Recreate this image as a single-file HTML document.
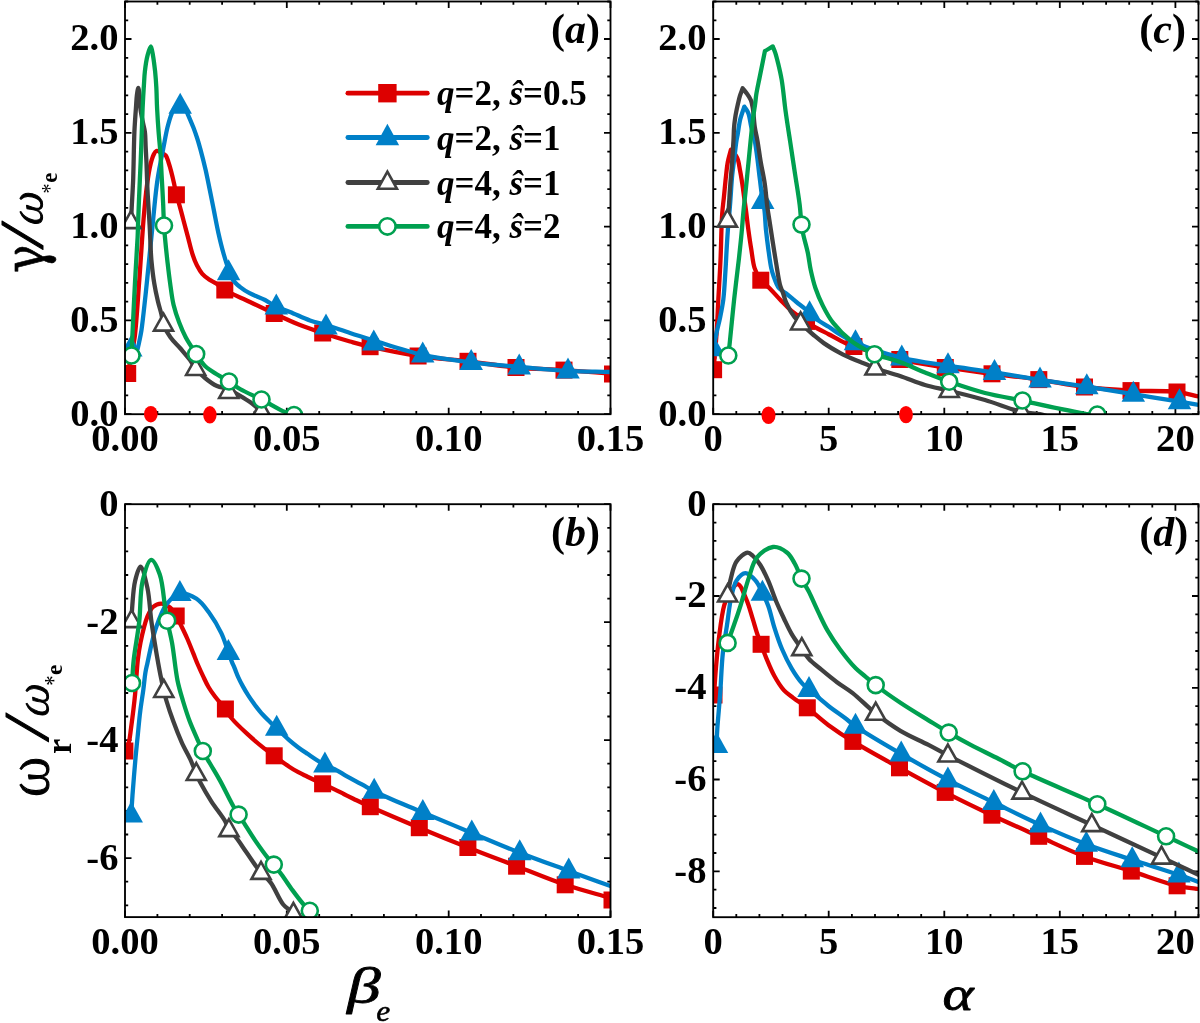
<!DOCTYPE html>
<html><head><meta charset="utf-8"><title>Growth rate and frequency</title><style>html,body{margin:0;padding:0;background:#fff;overflow:hidden;width:1200px;height:1023px;}svg{display:block;}</style></head><body>
<svg width="1200" height="1023" viewBox="0 0 1200 1023">
<rect width="100%" height="100%" fill="#fff"/>
<defs>
<clipPath id="clipa"><rect x="125.0" y="1.5" width="485.5" height="412.7"/></clipPath>
<clipPath id="clipb"><rect x="125.0" y="504.2" width="485.5" height="412.9"/></clipPath>
<clipPath id="clipc"><rect x="713.2" y="1.5" width="485.3" height="412.7"/></clipPath>
<clipPath id="clipd"><rect x="713.2" y="504.2" width="485.3" height="413.0"/></clipPath>
</defs>
<path d="M125.0,414.2 v-6.5 M125.0,1.5 v6.5 M286.8,414.2 v-6.5 M286.8,1.5 v6.5 M448.7,414.2 v-6.5 M448.7,1.5 v6.5 M610.5,414.2 v-6.5 M610.5,1.5 v6.5 M157.4,414.2 v-3.2 M157.4,1.5 v3.2 M189.7,414.2 v-3.2 M189.7,1.5 v3.2 M222.1,414.2 v-3.2 M222.1,1.5 v3.2 M254.5,414.2 v-3.2 M254.5,1.5 v3.2 M319.2,414.2 v-3.2 M319.2,1.5 v3.2 M351.6,414.2 v-3.2 M351.6,1.5 v3.2 M383.9,414.2 v-3.2 M383.9,1.5 v3.2 M416.3,414.2 v-3.2 M416.3,1.5 v3.2 M481.0,414.2 v-3.2 M481.0,1.5 v3.2 M513.4,414.2 v-3.2 M513.4,1.5 v3.2 M545.8,414.2 v-3.2 M545.8,1.5 v3.2 M578.1,414.2 v-3.2 M578.1,1.5 v3.2 M125.0,414.2 h6.5 M610.5,414.2 h-6.5 M125.0,320.4 h6.5 M610.5,320.4 h-6.5 M125.0,226.6 h6.5 M610.5,226.6 h-6.5 M125.0,132.8 h6.5 M610.5,132.8 h-6.5 M125.0,39.0 h6.5 M610.5,39.0 h-6.5 M125.0,395.4 h3.2 M610.5,395.4 h-3.2 M125.0,376.7 h3.2 M610.5,376.7 h-3.2 M125.0,357.9 h3.2 M610.5,357.9 h-3.2 M125.0,339.2 h3.2 M610.5,339.2 h-3.2 M125.0,301.6 h3.2 M610.5,301.6 h-3.2 M125.0,282.9 h3.2 M610.5,282.9 h-3.2 M125.0,264.1 h3.2 M610.5,264.1 h-3.2 M125.0,245.4 h3.2 M610.5,245.4 h-3.2 M125.0,207.8 h3.2 M610.5,207.8 h-3.2 M125.0,189.1 h3.2 M610.5,189.1 h-3.2 M125.0,170.3 h3.2 M610.5,170.3 h-3.2 M125.0,151.6 h3.2 M610.5,151.6 h-3.2 M125.0,114.1 h3.2 M610.5,114.1 h-3.2 M125.0,95.3 h3.2 M610.5,95.3 h-3.2 M125.0,76.5 h3.2 M610.5,76.5 h-3.2 M125.0,57.8 h3.2 M610.5,57.8 h-3.2 M125.0,20.3 h3.2 M610.5,20.3 h-3.2 M125.0,1.5 h3.2 M610.5,1.5 h-3.2" stroke="#000" stroke-width="1.8" fill="none"/>
<path d="M713.2,414.2 v-6.5 M713.2,1.5 v6.5 M828.7,414.2 v-6.5 M828.7,1.5 v6.5 M944.3,414.2 v-6.5 M944.3,1.5 v6.5 M1059.8,414.2 v-6.5 M1059.8,1.5 v6.5 M1175.4,414.2 v-6.5 M1175.4,1.5 v6.5 M736.3,414.2 v-3.2 M736.3,1.5 v3.2 M759.4,414.2 v-3.2 M759.4,1.5 v3.2 M782.5,414.2 v-3.2 M782.5,1.5 v3.2 M805.6,414.2 v-3.2 M805.6,1.5 v3.2 M851.9,414.2 v-3.2 M851.9,1.5 v3.2 M875.0,414.2 v-3.2 M875.0,1.5 v3.2 M898.1,414.2 v-3.2 M898.1,1.5 v3.2 M921.2,414.2 v-3.2 M921.2,1.5 v3.2 M967.4,414.2 v-3.2 M967.4,1.5 v3.2 M990.5,414.2 v-3.2 M990.5,1.5 v3.2 M1013.6,414.2 v-3.2 M1013.6,1.5 v3.2 M1036.7,414.2 v-3.2 M1036.7,1.5 v3.2 M1083.0,414.2 v-3.2 M1083.0,1.5 v3.2 M1106.1,414.2 v-3.2 M1106.1,1.5 v3.2 M1129.2,414.2 v-3.2 M1129.2,1.5 v3.2 M1152.3,414.2 v-3.2 M1152.3,1.5 v3.2 M1198.5,414.2 v-3.2 M1198.5,1.5 v3.2 M713.2,414.2 h6.5 M1198.5,414.2 h-6.5 M713.2,320.4 h6.5 M1198.5,320.4 h-6.5 M713.2,226.6 h6.5 M1198.5,226.6 h-6.5 M713.2,132.8 h6.5 M1198.5,132.8 h-6.5 M713.2,39.0 h6.5 M1198.5,39.0 h-6.5 M713.2,395.4 h3.2 M1198.5,395.4 h-3.2 M713.2,376.7 h3.2 M1198.5,376.7 h-3.2 M713.2,357.9 h3.2 M1198.5,357.9 h-3.2 M713.2,339.2 h3.2 M1198.5,339.2 h-3.2 M713.2,301.6 h3.2 M1198.5,301.6 h-3.2 M713.2,282.9 h3.2 M1198.5,282.9 h-3.2 M713.2,264.1 h3.2 M1198.5,264.1 h-3.2 M713.2,245.4 h3.2 M1198.5,245.4 h-3.2 M713.2,207.8 h3.2 M1198.5,207.8 h-3.2 M713.2,189.1 h3.2 M1198.5,189.1 h-3.2 M713.2,170.3 h3.2 M1198.5,170.3 h-3.2 M713.2,151.6 h3.2 M1198.5,151.6 h-3.2 M713.2,114.1 h3.2 M1198.5,114.1 h-3.2 M713.2,95.3 h3.2 M1198.5,95.3 h-3.2 M713.2,76.5 h3.2 M1198.5,76.5 h-3.2 M713.2,57.8 h3.2 M1198.5,57.8 h-3.2 M713.2,20.3 h3.2 M1198.5,20.3 h-3.2 M713.2,1.5 h3.2 M1198.5,1.5 h-3.2" stroke="#000" stroke-width="1.8" fill="none"/>
<path d="M125.0,917.1 v-6.5 M125.0,504.2 v6.5 M286.8,917.1 v-6.5 M286.8,504.2 v6.5 M448.7,917.1 v-6.5 M448.7,504.2 v6.5 M610.5,917.1 v-6.5 M610.5,504.2 v6.5 M157.4,917.1 v-3.2 M157.4,504.2 v3.2 M189.7,917.1 v-3.2 M189.7,504.2 v3.2 M222.1,917.1 v-3.2 M222.1,504.2 v3.2 M254.5,917.1 v-3.2 M254.5,504.2 v3.2 M319.2,917.1 v-3.2 M319.2,504.2 v3.2 M351.6,917.1 v-3.2 M351.6,504.2 v3.2 M383.9,917.1 v-3.2 M383.9,504.2 v3.2 M416.3,917.1 v-3.2 M416.3,504.2 v3.2 M481.0,917.1 v-3.2 M481.0,504.2 v3.2 M513.4,917.1 v-3.2 M513.4,504.2 v3.2 M545.8,917.1 v-3.2 M545.8,504.2 v3.2 M578.1,917.1 v-3.2 M578.1,504.2 v3.2 M125.0,504.2 h6.5 M610.5,504.2 h-6.5 M125.0,622.2 h6.5 M610.5,622.2 h-6.5 M125.0,740.1 h6.5 M610.5,740.1 h-6.5 M125.0,858.1 h6.5 M610.5,858.1 h-6.5 M125.0,527.8 h3.2 M610.5,527.8 h-3.2 M125.0,551.4 h3.2 M610.5,551.4 h-3.2 M125.0,575.0 h3.2 M610.5,575.0 h-3.2 M125.0,598.6 h3.2 M610.5,598.6 h-3.2 M125.0,645.8 h3.2 M610.5,645.8 h-3.2 M125.0,669.4 h3.2 M610.5,669.4 h-3.2 M125.0,693.0 h3.2 M610.5,693.0 h-3.2 M125.0,716.5 h3.2 M610.5,716.5 h-3.2 M125.0,763.7 h3.2 M610.5,763.7 h-3.2 M125.0,787.3 h3.2 M610.5,787.3 h-3.2 M125.0,810.9 h3.2 M610.5,810.9 h-3.2 M125.0,834.5 h3.2 M610.5,834.5 h-3.2 M125.0,881.7 h3.2 M610.5,881.7 h-3.2 M125.0,905.3 h3.2 M610.5,905.3 h-3.2" stroke="#000" stroke-width="1.8" fill="none"/>
<path d="M713.2,917.2 v-6.5 M713.2,504.2 v6.5 M828.7,917.2 v-6.5 M828.7,504.2 v6.5 M944.3,917.2 v-6.5 M944.3,504.2 v6.5 M1059.8,917.2 v-6.5 M1059.8,504.2 v6.5 M1175.4,917.2 v-6.5 M1175.4,504.2 v6.5 M736.3,917.2 v-3.2 M736.3,504.2 v3.2 M759.4,917.2 v-3.2 M759.4,504.2 v3.2 M782.5,917.2 v-3.2 M782.5,504.2 v3.2 M805.6,917.2 v-3.2 M805.6,504.2 v3.2 M851.9,917.2 v-3.2 M851.9,504.2 v3.2 M875.0,917.2 v-3.2 M875.0,504.2 v3.2 M898.1,917.2 v-3.2 M898.1,504.2 v3.2 M921.2,917.2 v-3.2 M921.2,504.2 v3.2 M967.4,917.2 v-3.2 M967.4,504.2 v3.2 M990.5,917.2 v-3.2 M990.5,504.2 v3.2 M1013.6,917.2 v-3.2 M1013.6,504.2 v3.2 M1036.7,917.2 v-3.2 M1036.7,504.2 v3.2 M1083.0,917.2 v-3.2 M1083.0,504.2 v3.2 M1106.1,917.2 v-3.2 M1106.1,504.2 v3.2 M1129.2,917.2 v-3.2 M1129.2,504.2 v3.2 M1152.3,917.2 v-3.2 M1152.3,504.2 v3.2 M1198.5,917.2 v-3.2 M1198.5,504.2 v3.2 M713.2,504.2 h6.5 M1198.5,504.2 h-6.5 M713.2,596.0 h6.5 M1198.5,596.0 h-6.5 M713.2,687.8 h6.5 M1198.5,687.8 h-6.5 M713.2,779.5 h6.5 M1198.5,779.5 h-6.5 M713.2,871.3 h6.5 M1198.5,871.3 h-6.5 M713.2,522.6 h3.2 M1198.5,522.6 h-3.2 M713.2,540.9 h3.2 M1198.5,540.9 h-3.2 M713.2,559.3 h3.2 M1198.5,559.3 h-3.2 M713.2,577.6 h3.2 M1198.5,577.6 h-3.2 M713.2,614.3 h3.2 M1198.5,614.3 h-3.2 M713.2,632.7 h3.2 M1198.5,632.7 h-3.2 M713.2,651.0 h3.2 M1198.5,651.0 h-3.2 M713.2,669.4 h3.2 M1198.5,669.4 h-3.2 M713.2,706.1 h3.2 M1198.5,706.1 h-3.2 M713.2,724.5 h3.2 M1198.5,724.5 h-3.2 M713.2,742.8 h3.2 M1198.5,742.8 h-3.2 M713.2,761.2 h3.2 M1198.5,761.2 h-3.2 M713.2,797.9 h3.2 M1198.5,797.9 h-3.2 M713.2,816.2 h3.2 M1198.5,816.2 h-3.2 M713.2,834.6 h3.2 M1198.5,834.6 h-3.2 M713.2,853.0 h3.2 M1198.5,853.0 h-3.2 M713.2,889.7 h3.2 M1198.5,889.7 h-3.2 M713.2,908.0 h3.2 M1198.5,908.0 h-3.2" stroke="#000" stroke-width="1.8" fill="none"/>
<g clip-path="url(#clipa)">
<path d="M127.7,373.5 C129.0,367.3 130.3,361.1 131.5,355.0 C132.7,349.0 133.7,344.9 134.7,337.3 C136.5,323.5 137.9,298.2 139.4,278.7 C140.9,259.1 142.1,237.0 143.5,220.0 C144.6,206.8 145.6,195.3 147.0,185.0 C148.1,176.9 149.4,168.7 150.8,163.2 C151.7,159.8 152.4,157.2 153.5,155.0 C154.3,153.4 155.1,151.4 156.3,151.0 C157.3,150.6 158.7,151.4 160.0,152.0 C161.7,152.7 164.3,153.7 165.7,155.4 C167.3,157.3 167.7,160.0 168.8,163.2 C170.5,168.3 172.7,177.4 174.0,183.2 C175.0,187.6 175.4,191.0 176.4,194.8 C177.3,198.6 178.6,202.0 179.7,206.1 C181.1,211.0 182.6,216.9 184.0,222.3 C185.4,227.7 186.9,233.0 188.3,238.4 C189.7,243.8 191.0,249.7 192.6,254.5 C193.9,258.5 195.2,262.0 196.9,265.3 C198.5,268.4 200.2,271.5 202.3,273.9 C204.2,276.1 206.4,277.6 208.7,279.2 C211.0,280.8 213.7,281.8 216.2,283.5 C219.0,285.4 221.0,287.7 224.8,290.0 C230.9,293.7 241.7,298.0 250.0,302.0 C258.1,305.9 266.0,309.7 274.2,313.5 C282.6,317.4 291.6,321.7 300.0,325.0 C307.7,328.1 314.8,330.4 322.7,333.0 C331.4,335.9 341.6,339.1 350.0,341.5 C357.2,343.5 361.9,344.9 370.1,346.7 C382.6,349.5 401.9,353.6 418.1,356.0 C434.5,358.5 451.5,359.4 468.0,361.3 C484.2,363.2 500.0,366.0 516.0,367.5 C532.0,369.0 548.1,369.1 564.0,370.1 C579.6,371.1 595.0,372.4 610.5,373.5" fill="none" stroke="#dd0000" stroke-width="4.3" stroke-linejoin="round" stroke-linecap="round"/>
<rect x="119.2" y="365.0" width="17.0" height="17.0" fill="#dd0000"/>
<rect x="167.9" y="186.3" width="17.0" height="17.0" fill="#dd0000"/>
<rect x="216.3" y="281.5" width="17.0" height="17.0" fill="#dd0000"/>
<rect x="265.7" y="305.0" width="17.0" height="17.0" fill="#dd0000"/>
<rect x="314.2" y="324.5" width="17.0" height="17.0" fill="#dd0000"/>
<rect x="361.6" y="338.2" width="17.0" height="17.0" fill="#dd0000"/>
<rect x="409.6" y="347.5" width="17.0" height="17.0" fill="#dd0000"/>
<rect x="459.5" y="352.8" width="17.0" height="17.0" fill="#dd0000"/>
<rect x="507.5" y="359.0" width="17.0" height="17.0" fill="#dd0000"/>
<rect x="555.5" y="361.6" width="17.0" height="17.0" fill="#dd0000"/>
<rect x="604.0" y="365.5" width="17.0" height="17.0" fill="#dd0000"/>
<path d="M130.8,348.9 C133.1,348.9 135.3,349.0 137.6,349.0 L137.6,349.0 C138.1,346.8 138.6,344.9 139.1,342.4 C139.8,339.0 140.6,335.6 141.4,330.6 C142.7,322.0 144.2,307.1 145.5,295.4 C146.8,283.7 147.9,271.9 149.1,260.2 C150.3,248.5 151.4,237.0 152.6,225.0 C153.9,212.4 155.2,196.9 156.6,186.4 C157.5,179.1 158.4,174.2 159.5,168.0 C160.6,161.7 161.9,155.4 163.2,148.8 C164.6,141.8 165.9,133.7 167.5,127.3 C168.8,122.1 170.2,117.1 171.8,113.3 C173.0,110.6 173.9,108.1 175.5,106.5 C176.8,105.2 178.5,104.0 180.0,104.0 C181.4,104.0 182.9,104.8 184.0,106.0 C185.5,107.6 186.1,110.5 187.4,113.3 C189.1,117.2 191.6,122.9 193.3,127.3 C194.8,131.1 195.9,134.4 197.1,138.0 C198.3,141.6 199.1,144.6 200.3,148.8 C201.9,154.7 204.1,163.3 205.7,170.3 C207.2,177.0 208.4,183.3 209.8,190.0 C211.2,197.0 212.7,204.3 214.1,211.5 C215.5,218.7 216.8,225.9 218.4,233.0 C220.0,240.2 221.9,248.0 223.8,254.5 C225.4,260.0 226.9,265.0 228.6,269.5 C230.0,273.3 231.0,277.0 233.0,280.0 C234.8,282.7 237.3,284.7 239.9,286.8 C242.8,289.1 245.9,291.2 249.6,293.2 C254.1,295.6 260.3,297.6 265.0,300.0 C269.1,302.2 272.3,304.9 276.3,306.9 C280.6,309.0 285.0,310.0 290.0,312.0 C296.1,314.4 303.6,318.3 310.0,320.5 C315.6,322.5 320.2,323.2 326.0,325.0 C333.2,327.2 342.0,330.4 350.0,333.0 C357.9,335.6 364.4,337.6 373.8,340.5 C387.2,344.6 406.3,351.2 422.7,354.9 C438.8,358.5 455.0,360.4 471.2,362.4 C487.2,364.4 503.1,365.5 519.2,366.9 C535.4,368.3 552.3,370.1 568.0,370.9 C582.6,371.7 596.3,371.6 610.5,372.0" fill="none" stroke="#0080c8" stroke-width="4.3" stroke-linejoin="round" stroke-linecap="round"/>
<polygon points="130.80,335.46 142.55,356.46 119.05,356.46" fill="#0080c8"/>
<polygon points="180.20,92.86 191.95,113.86 168.45,113.86" fill="#0080c8"/>
<polygon points="228.60,259.36 240.35,280.36 216.85,280.36" fill="#0080c8"/>
<polygon points="276.30,293.46 288.05,314.46 264.55,314.46" fill="#0080c8"/>
<polygon points="326.00,313.46 337.75,334.46 314.25,334.46" fill="#0080c8"/>
<polygon points="373.80,329.46 385.55,350.46 362.05,350.46" fill="#0080c8"/>
<polygon points="422.70,341.46 434.45,362.46 410.95,362.46" fill="#0080c8"/>
<polygon points="471.20,348.96 482.95,369.96 459.45,369.96" fill="#0080c8"/>
<polygon points="519.20,353.46 530.95,374.46 507.45,374.46" fill="#0080c8"/>
<polygon points="568.00,357.46 579.75,378.46 556.25,378.46" fill="#0080c8"/>
<path d="M131.0,221.9 C131.2,217.3 131.4,213.5 131.7,208.0 C132.1,200.0 132.9,186.9 133.2,178.7 C133.4,172.7 133.4,169.3 133.6,163.2 C133.8,154.6 134.0,141.6 134.4,131.9 C134.8,123.5 135.4,115.2 135.9,108.5 C136.3,103.4 136.4,98.8 136.9,95.0 C137.3,92.2 137.9,87.8 138.3,87.8 C138.7,87.8 139.1,92.2 139.4,95.0 C139.8,98.8 139.9,104.1 140.4,108.5 C140.9,112.8 141.8,117.0 142.6,121.0 C143.3,124.8 144.4,127.9 144.9,131.9 C145.5,136.6 145.4,142.3 145.7,147.5 C146.0,152.7 146.2,157.3 146.5,163.2 C146.8,170.9 147.0,180.5 147.5,190.0 C148.0,200.9 149.0,213.3 149.6,225.0 C150.3,236.7 150.5,249.7 151.4,260.2 C152.2,268.8 153.1,276.5 154.3,283.7 C155.3,290.0 156.6,295.9 157.9,301.3 C159.0,306.0 160.4,310.1 161.4,314.2 C162.3,317.8 162.2,320.9 163.5,324.4 C165.0,328.6 167.6,333.4 170.4,337.3 C173.1,341.2 176.8,344.3 180.0,348.0 C183.3,351.9 187.2,356.2 190.0,360.0 C192.3,363.1 193.4,365.9 195.7,368.7 C198.3,371.9 201.5,375.2 205.0,378.0 C208.6,381.0 212.9,384.2 217.0,386.0 C220.8,387.7 225.2,387.5 228.7,389.0 C231.8,390.3 233.9,392.1 237.0,394.0 C240.9,396.3 245.9,399.1 250.0,402.0 C254.0,404.8 258.1,409.0 261.5,411.2 C263.9,412.7 266.2,413.3 268.0,414.5 C269.6,415.6 270.7,416.8 272.0,418.0" fill="none" stroke="#404040" stroke-width="4.3" stroke-linejoin="round" stroke-linecap="round"/>
<polygon points="131.00,211.12 140.55,228.16 121.45,228.16" fill="#fff" stroke="#404040" stroke-width="2.6" stroke-linejoin="miter" stroke-miterlimit="10"/>
<polygon points="163.50,313.62 173.05,330.66 153.95,330.66" fill="#fff" stroke="#404040" stroke-width="2.6" stroke-linejoin="miter" stroke-miterlimit="10"/>
<polygon points="195.70,357.92 205.25,374.96 186.15,374.96" fill="#fff" stroke="#404040" stroke-width="2.6" stroke-linejoin="miter" stroke-miterlimit="10"/>
<polygon points="228.70,380.92 238.25,397.96 219.15,397.96" fill="#fff" stroke="#404040" stroke-width="2.6" stroke-linejoin="miter" stroke-miterlimit="10"/>
<polygon points="261.50,400.42 271.05,417.46 251.95,417.46" fill="#fff" stroke="#404040" stroke-width="2.6" stroke-linejoin="miter" stroke-miterlimit="10"/>
<path d="M131.5,355.5 C131.8,349.4 131.9,345.1 132.3,337.3 C133.0,323.3 134.2,296.5 135.2,278.7 C136.0,263.7 137.1,248.2 137.6,237.4 C137.9,230.4 137.9,227.0 138.2,220.0 C138.6,209.2 139.4,189.2 139.9,178.7 C140.2,172.3 140.3,169.3 140.6,163.2 C141.0,154.6 141.4,141.6 141.8,131.9 C142.1,123.5 142.3,116.1 142.6,108.5 C142.9,101.2 143.4,93.5 143.8,86.9 C144.2,81.3 144.3,76.5 144.9,71.3 C145.5,66.1 146.3,60.1 147.5,55.6 C148.4,52.1 149.9,46.4 150.8,46.5 C151.7,46.6 152.4,52.1 153.0,55.6 C153.8,60.1 154.5,66.1 155.1,71.3 C155.6,76.5 156.0,81.3 156.3,86.9 C156.7,93.5 156.7,101.2 157.1,108.5 C157.5,116.1 158.0,124.1 158.6,131.9 C159.2,139.7 160.1,147.9 160.6,155.4 C161.1,162.2 161.2,167.8 161.6,175.0 C162.1,183.9 162.8,195.9 163.2,205.0 C163.5,212.5 163.7,219.7 164.0,225.5 C164.3,229.8 164.5,232.3 164.9,236.7 C165.5,243.1 166.4,252.4 167.3,260.2 C168.2,268.0 169.1,276.1 170.2,283.7 C171.2,291.0 172.0,298.3 173.6,305.0 C175.1,311.2 177.1,317.0 179.2,322.5 C181.2,327.7 183.1,332.3 185.7,337.3 C188.6,342.8 192.8,348.9 196.2,354.0 C199.2,358.4 201.4,362.5 205.0,366.0 C208.7,369.6 213.8,372.3 218.0,375.0 C221.8,377.4 225.4,379.2 229.0,381.5 C232.7,383.9 235.6,386.5 240.0,389.0 C245.9,392.4 254.2,395.8 261.5,399.5 C269.2,403.4 278.9,409.4 285.0,412.0 C288.6,413.6 291.0,414.0 294.0,415.0" fill="none" stroke="#00a050" stroke-width="4.3" stroke-linejoin="round" stroke-linecap="round"/>
<circle cx="131.5" cy="355.5" r="8.0" fill="#fff" stroke="#00a050" stroke-width="2.6"/>
<circle cx="164.0" cy="225.5" r="8.0" fill="#fff" stroke="#00a050" stroke-width="2.6"/>
<circle cx="196.2" cy="354.0" r="8.0" fill="#fff" stroke="#00a050" stroke-width="2.6"/>
<circle cx="229.0" cy="381.5" r="8.0" fill="#fff" stroke="#00a050" stroke-width="2.6"/>
<circle cx="261.5" cy="399.5" r="8.0" fill="#fff" stroke="#00a050" stroke-width="2.6"/>
<circle cx="294.0" cy="415.0" r="8.0" fill="#fff" stroke="#00a050" stroke-width="2.6"/>
</g>
<g clip-path="url(#clipc)">
<path d="M713.6,369.7 C714.6,357.5 715.8,344.9 716.6,333.0 C717.4,321.7 717.7,311.4 718.3,299.8 C719.0,287.1 719.9,273.7 720.5,260.0 C721.2,245.4 721.3,226.4 722.1,214.8 C722.6,207.6 723.3,203.1 723.9,197.2 C724.5,191.3 725.0,185.5 725.6,179.6 C726.3,173.7 726.8,167.3 727.8,162.0 C728.6,157.5 729.9,153.8 730.9,149.7 L730.9,149.7 C733.0,152.3 735.6,154.4 737.1,157.6 C738.9,161.3 739.2,166.4 740.1,170.8 C741.0,175.2 741.6,179.6 742.3,184.0 C743.0,188.4 743.5,192.9 744.1,197.2 C744.7,201.4 745.3,205.1 745.9,209.8 C746.7,215.6 747.4,222.8 748.3,229.3 C749.2,235.8 750.1,242.4 751.2,248.9 C752.3,255.4 752.8,262.8 754.7,268.4 C756.2,273.0 758.2,276.9 760.8,280.2 C763.2,283.3 766.4,285.1 769.3,288.0 C772.7,291.4 776.3,295.7 780.0,299.5 C783.7,303.3 786.9,307.0 791.5,310.9 C797.4,315.8 806.2,321.8 813.0,325.9 C818.6,329.4 823.7,331.6 829.1,334.5 C834.5,337.4 840.7,341.0 845.3,343.1 C848.6,344.6 849.9,345.1 853.9,346.5 C863.1,349.6 884.4,356.0 899.8,359.5 C914.9,363.0 930.0,365.1 945.3,367.5 C960.7,369.9 976.4,371.8 992.0,373.8 C1007.6,375.8 1023.3,377.4 1038.8,379.6 C1054.1,381.8 1069.2,385.2 1084.5,387.0 C1099.9,388.8 1115.5,389.8 1131.0,390.6 C1146.4,391.4 1164.6,390.5 1177.0,392.0 C1185.6,393.0 1191.3,395.0 1198.5,396.5" fill="none" stroke="#dd0000" stroke-width="4.3" stroke-linejoin="round" stroke-linecap="round"/>
<rect x="705.1" y="361.2" width="17.0" height="17.0" fill="#dd0000"/>
<rect x="752.3" y="271.7" width="17.0" height="17.0" fill="#dd0000"/>
<rect x="798.0" y="312.9" width="17.0" height="17.0" fill="#dd0000"/>
<rect x="845.4" y="338.0" width="17.0" height="17.0" fill="#dd0000"/>
<rect x="891.3" y="351.0" width="17.0" height="17.0" fill="#dd0000"/>
<rect x="936.8" y="359.0" width="17.0" height="17.0" fill="#dd0000"/>
<rect x="983.5" y="365.3" width="17.0" height="17.0" fill="#dd0000"/>
<rect x="1030.3" y="371.1" width="17.0" height="17.0" fill="#dd0000"/>
<rect x="1076.0" y="378.5" width="17.0" height="17.0" fill="#dd0000"/>
<rect x="1122.5" y="382.1" width="17.0" height="17.0" fill="#dd0000"/>
<rect x="1168.5" y="383.5" width="17.0" height="17.0" fill="#dd0000"/>
<path d="M713.5,348.7 C714.5,343.5 715.4,338.2 716.5,333.0 C717.6,327.9 718.9,323.3 720.0,318.0 C721.2,312.2 722.4,306.6 723.3,299.8 C724.4,291.1 724.9,278.9 725.5,270.0 C726.0,262.7 726.2,256.8 726.6,250.0 C727.0,242.8 727.5,234.9 728.0,228.0 C728.5,221.8 729.1,216.3 729.6,210.4 C730.1,204.5 730.5,198.7 730.9,192.8 C731.3,186.9 731.6,181.1 732.2,175.2 C732.8,169.3 733.7,163.5 734.4,157.6 C735.1,151.7 735.9,144.1 736.6,140.0 C737.0,137.7 737.2,137.0 737.6,134.8 C738.3,131.0 739.1,124.0 740.3,119.1 C741.4,114.7 743.0,110.8 744.3,106.6 L744.3,106.6 C745.6,108.7 747.1,110.3 748.2,112.9 C749.7,116.6 750.2,122.3 751.3,127.0 C752.4,131.7 753.8,136.1 754.8,141.0 C755.9,146.4 756.5,152.0 757.3,158.0 C758.2,164.8 759.0,172.4 759.9,179.6 C760.8,186.9 761.8,195.8 762.7,201.4 C763.3,204.9 763.9,206.4 764.4,209.8 C765.1,214.9 765.3,222.8 765.9,229.3 C766.6,235.8 767.4,242.4 768.3,248.9 C769.2,255.4 770.2,263.4 771.3,268.4 C772.0,271.5 772.5,273.2 773.5,276.0 C774.8,279.6 776.4,285.0 778.8,288.0 C780.7,290.4 783.3,291.2 785.8,293.2 C789.0,295.7 793.0,299.3 796.4,302.0 C799.5,304.5 802.8,306.8 805.2,309.0 C807.0,310.7 807.8,312.2 809.6,313.8 C812.0,315.9 815.3,318.4 818.4,320.5 C821.7,322.8 825.6,324.7 829.1,327.0 C832.7,329.4 835.9,332.1 839.9,334.5 C844.5,337.3 848.8,339.9 855.5,342.8 C866.7,347.6 886.2,354.1 901.8,357.9 C917.1,361.7 932.6,363.3 948.0,365.7 C963.5,368.1 979.1,370.0 994.5,372.4 C1009.8,374.8 1024.7,377.5 1040.0,379.9 C1055.5,382.3 1071.2,384.3 1086.8,386.7 C1102.3,389.1 1117.8,391.7 1133.3,394.2 C1148.7,396.7 1167.5,399.7 1179.5,401.7 C1187.2,403.0 1192.2,403.8 1198.5,404.8" fill="none" stroke="#0080c8" stroke-width="4.3" stroke-linejoin="round" stroke-linecap="round"/>
<polygon points="713.50,335.26 725.25,356.26 701.75,356.26" fill="#0080c8"/>
<polygon points="762.70,187.96 774.45,208.96 750.95,208.96" fill="#0080c8"/>
<polygon points="809.60,300.36 821.35,321.36 797.85,321.36" fill="#0080c8"/>
<polygon points="855.50,329.36 867.25,350.36 843.75,350.36" fill="#0080c8"/>
<polygon points="901.80,344.46 913.55,365.46 890.05,365.46" fill="#0080c8"/>
<polygon points="948.00,352.26 959.75,373.26 936.25,373.26" fill="#0080c8"/>
<polygon points="994.50,358.96 1006.25,379.96 982.75,379.96" fill="#0080c8"/>
<polygon points="1040.00,366.46 1051.75,387.46 1028.25,387.46" fill="#0080c8"/>
<polygon points="1086.80,373.26 1098.55,394.26 1075.05,394.26" fill="#0080c8"/>
<polygon points="1133.30,380.76 1145.05,401.76 1121.55,401.76" fill="#0080c8"/>
<polygon points="1179.50,388.26 1191.25,409.26 1167.75,409.26" fill="#0080c8"/>
<path d="M727.4,220.4 C727.8,216.5 728.3,213.1 728.7,208.6 C729.2,202.8 729.5,195.3 730.0,188.4 C730.5,181.2 731.2,174.1 731.8,166.4 C732.4,158.0 733.1,147.3 733.5,140.0 C733.8,134.9 733.7,131.2 734.1,127.0 C734.4,123.0 735.0,119.1 735.6,115.2 C736.3,111.3 737.2,107.0 738.0,103.5 C738.7,100.6 739.2,98.2 740.0,95.6 C740.8,93.1 741.8,90.7 742.7,88.2 L742.7,88.2 C744.0,89.9 745.3,91.4 746.6,93.3 C748.1,95.4 749.9,97.8 750.9,100.3 C751.9,102.7 752.2,104.8 752.8,108.0 C753.7,112.9 753.9,121.1 754.8,127.0 C755.6,132.2 756.7,136.3 757.6,141.5 C758.6,147.4 759.4,153.8 760.5,160.5 C761.7,167.9 763.7,176.3 764.8,184.0 C765.9,191.4 766.4,199.6 767.2,206.0 C767.9,211.1 768.5,214.7 769.3,219.6 C770.2,225.5 771.2,232.2 772.3,239.1 C773.5,246.8 774.9,255.7 776.2,263.5 C777.4,270.8 778.5,279.1 779.9,284.5 C780.8,288.0 782.0,290.1 783.0,293.0 C784.1,296.0 784.6,298.9 786.1,302.3 C788.1,306.8 791.9,313.6 794.7,317.3 C796.7,319.9 798.2,320.9 800.6,323.2 C803.9,326.4 809.0,331.1 813.0,334.5 C816.7,337.6 819.7,340.3 823.8,343.1 C828.5,346.4 834.5,349.9 839.9,352.8 C845.2,355.6 851.1,358.2 856.0,360.3 C859.9,362.0 863.5,363.2 866.8,364.6 C869.7,365.8 871.5,367.0 875.0,368.3 C881.0,370.6 891.7,373.2 900.0,376.0 C908.4,378.8 916.7,382.5 925.0,385.0 C933.1,387.4 940.4,388.5 949.2,390.7 C960.0,393.4 973.0,396.5 985.0,400.0 C997.2,403.6 1011.5,409.6 1021.7,411.9 C1028.8,413.5 1034.8,413.2 1040.0,414.2 C1043.9,415.0 1046.7,416.1 1050.0,417.0" fill="none" stroke="#404040" stroke-width="4.3" stroke-linejoin="round" stroke-linecap="round"/>
<polygon points="727.40,209.62 736.95,226.66 717.85,226.66" fill="#fff" stroke="#404040" stroke-width="2.6" stroke-linejoin="miter" stroke-miterlimit="10"/>
<polygon points="800.60,312.42 810.15,329.46 791.05,329.46" fill="#fff" stroke="#404040" stroke-width="2.6" stroke-linejoin="miter" stroke-miterlimit="10"/>
<polygon points="875.00,357.52 884.55,374.56 865.45,374.56" fill="#fff" stroke="#404040" stroke-width="2.6" stroke-linejoin="miter" stroke-miterlimit="10"/>
<polygon points="949.20,379.92 958.75,396.96 939.65,396.96" fill="#fff" stroke="#404040" stroke-width="2.6" stroke-linejoin="miter" stroke-miterlimit="10"/>
<polygon points="1021.70,401.12 1031.25,418.16 1012.15,418.16" fill="#fff" stroke="#404040" stroke-width="2.6" stroke-linejoin="miter" stroke-miterlimit="10"/>
<path d="M728.3,355.5 C728.8,350.8 729.3,347.3 729.9,341.4 C731.0,331.2 732.6,313.7 734.1,299.8 C735.6,285.9 737.7,270.0 739.0,258.0 C740.0,248.9 740.7,242.0 741.5,234.0 C742.3,226.0 742.8,217.8 743.6,210.0 C744.3,202.6 745.2,195.6 745.9,188.4 C746.7,181.1 747.3,174.1 748.1,166.4 C748.9,158.0 749.9,148.3 750.7,140.0 C751.5,132.6 752.1,125.6 752.9,119.1 C753.6,113.5 754.6,108.1 755.2,103.5 C755.7,99.9 755.8,97.2 756.4,93.7 C757.1,89.5 758.0,85.4 759.1,80.0 C760.7,72.1 763.0,60.7 764.9,51.1 L764.9,51.1 C767.5,49.5 770.2,48.0 772.8,46.4 L772.8,46.4 C773.6,48.5 774.4,50.2 775.2,52.6 C776.2,55.6 777.1,59.2 778.1,63.2 C779.3,68.1 780.6,73.5 781.7,80.0 C783.2,88.8 784.2,100.9 785.6,111.3 C787.0,121.7 788.7,132.1 790.3,142.5 C791.9,152.9 793.4,163.4 795.0,173.8 C796.6,184.2 798.6,195.8 799.7,205.0 C800.6,212.3 800.8,219.1 801.5,224.6 C802.1,228.7 802.6,231.2 803.4,235.2 C804.5,240.3 806.6,246.9 807.8,252.8 C809.0,258.6 809.5,264.6 810.8,270.4 C812.1,276.3 813.4,282.2 815.4,288.0 C817.4,293.9 819.9,299.8 822.8,305.6 C825.8,311.6 829.0,317.6 833.4,323.2 C838.2,329.4 845.2,336.2 851.0,340.8 C855.7,344.6 860.7,347.2 865.0,349.6 C868.4,351.5 870.5,352.6 874.5,354.2 C880.9,356.7 891.6,359.0 900.0,362.0 C908.5,365.1 916.7,369.2 925.0,372.5 C933.1,375.7 940.3,378.6 949.2,381.7 C959.9,385.4 972.8,389.9 985.0,393.0 C997.3,396.2 1014.1,398.7 1022.5,400.5 C1026.7,401.4 1027.5,401.8 1032.0,402.8 C1042.6,405.1 1074.7,412.2 1086.0,413.8 C1091.1,414.4 1093.5,414.2 1097.3,414.5" fill="none" stroke="#00a050" stroke-width="4.3" stroke-linejoin="round" stroke-linecap="round"/>
<circle cx="728.3" cy="355.5" r="8.0" fill="#fff" stroke="#00a050" stroke-width="2.6"/>
<circle cx="801.5" cy="224.6" r="8.0" fill="#fff" stroke="#00a050" stroke-width="2.6"/>
<circle cx="874.5" cy="354.2" r="8.0" fill="#fff" stroke="#00a050" stroke-width="2.6"/>
<circle cx="949.2" cy="381.7" r="8.0" fill="#fff" stroke="#00a050" stroke-width="2.6"/>
<circle cx="1022.5" cy="400.5" r="8.0" fill="#fff" stroke="#00a050" stroke-width="2.6"/>
<circle cx="1097.3" cy="414.5" r="8.0" fill="#fff" stroke="#00a050" stroke-width="2.6"/>
</g>
<g clip-path="url(#clipb)">
<path d="M124.9,751.0 C126.2,748.0 127.9,745.4 128.9,742.0 C130.1,738.0 130.2,734.0 131.0,728.4 C132.2,719.6 134.0,705.6 135.1,694.2 C136.2,682.8 136.7,669.5 137.8,660.0 C138.6,653.2 139.2,648.9 140.5,642.6 C142.1,634.8 144.7,623.0 147.4,616.6 C149.1,612.5 150.5,609.2 153.0,607.0 C155.2,605.1 158.3,603.6 161.1,603.6 C164.0,603.6 167.5,605.5 170.0,607.5 C172.6,609.6 174.3,612.9 176.2,616.0 C178.2,619.2 179.8,622.9 181.6,626.5 C183.4,630.2 185.2,633.9 187.0,638.0 C189.1,642.7 191.3,648.4 193.2,653.1 C194.9,657.3 196.3,661.1 198.0,665.0 C199.7,668.9 201.4,672.7 203.2,676.4 C204.9,680.0 206.5,683.6 208.5,687.0 C210.4,690.3 212.3,693.0 214.8,696.3 C217.8,700.3 222.4,705.0 225.4,709.0 C227.9,712.3 229.0,715.1 231.8,718.5 C235.6,723.1 241.6,728.7 247.0,733.7 C252.6,738.9 259.7,744.9 264.8,748.9 C268.4,751.7 271.5,753.7 274.2,755.8 C276.4,757.4 277.8,758.6 280.0,760.2 C282.7,762.2 286.1,764.7 289.2,766.7 C292.2,768.7 295.2,770.5 298.3,772.2 C301.3,773.8 304.0,775.0 307.5,776.7 C311.9,778.8 317.8,781.6 322.6,783.8 C326.9,785.8 331.2,787.8 335.0,789.6 C338.3,791.2 341.1,792.7 344.2,794.2 C347.2,795.7 349.8,797.0 353.3,798.7 C358.1,801.0 363.1,803.5 370.3,806.7 C382.4,812.1 403.0,820.9 419.3,827.7 C435.5,834.5 451.7,841.1 467.9,847.5 C484.1,853.9 500.4,860.0 516.6,866.2 C532.8,872.4 549.2,879.4 565.2,884.8 C580.5,889.9 595.4,893.6 610.5,898.0" fill="none" stroke="#dd0000" stroke-width="4.3" stroke-linejoin="round" stroke-linecap="round"/>
<rect x="116.4" y="742.5" width="17.0" height="17.0" fill="#dd0000"/>
<rect x="167.7" y="607.5" width="17.0" height="17.0" fill="#dd0000"/>
<rect x="216.9" y="700.5" width="17.0" height="17.0" fill="#dd0000"/>
<rect x="265.7" y="747.3" width="17.0" height="17.0" fill="#dd0000"/>
<rect x="314.1" y="775.3" width="17.0" height="17.0" fill="#dd0000"/>
<rect x="361.8" y="798.2" width="17.0" height="17.0" fill="#dd0000"/>
<rect x="410.8" y="819.2" width="17.0" height="17.0" fill="#dd0000"/>
<rect x="459.4" y="839.0" width="17.0" height="17.0" fill="#dd0000"/>
<rect x="508.1" y="857.7" width="17.0" height="17.0" fill="#dd0000"/>
<rect x="556.7" y="876.3" width="17.0" height="17.0" fill="#dd0000"/>
<rect x="603.5" y="891.5" width="17.0" height="17.0" fill="#dd0000"/>
<path d="M131.2,815.0 C131.6,808.3 132.0,802.5 132.5,795.0 C133.2,785.3 134.3,772.2 135.2,761.7 C136.0,752.3 136.9,743.7 137.8,735.0 C138.6,726.7 139.3,718.6 140.3,710.8 C141.2,703.6 142.4,696.6 143.3,690.0 C144.1,684.0 144.6,677.6 145.4,672.7 C146.0,669.0 146.5,667.3 147.4,663.2 C149.2,655.3 152.1,639.3 155.6,629.0 C158.7,619.9 161.8,610.5 166.5,604.3 C170.3,599.4 174.9,594.4 179.9,593.5 C184.9,592.6 191.8,595.7 196.6,598.8 C201.5,602.0 205.1,607.3 209.0,612.5 C213.4,618.5 218.0,626.2 221.3,633.1 C224.4,639.5 226.5,647.2 228.4,652.4 C229.7,656.0 230.6,658.7 231.7,661.4 C232.6,663.8 233.5,665.5 234.5,667.9 C235.7,670.7 236.8,674.1 238.2,677.1 C239.6,680.2 241.2,683.3 242.9,686.4 C244.6,689.5 246.4,692.6 248.4,695.7 C250.4,698.8 252.6,701.9 254.9,705.0 C257.3,708.1 259.8,711.4 262.4,714.3 C264.8,717.0 267.4,719.3 269.8,721.7 C272.1,724.0 274.1,725.8 276.7,728.3 C280.2,731.7 285.3,736.7 289.2,740.1 C292.4,742.9 295.2,745.1 298.3,747.4 C301.3,749.7 303.9,751.4 307.5,753.8 C312.4,757.1 319.5,762.1 324.9,765.0 C329.1,767.3 333.1,768.4 336.8,770.3 C340.1,772.0 342.8,774.0 346.0,775.8 C349.3,777.7 352.7,779.5 356.1,781.3 C359.5,783.1 363.0,785.1 366.2,786.8 C369.0,788.3 371.1,789.5 374.2,791.1 C378.2,793.1 382.5,795.2 388.2,797.8 C397.1,801.8 410.3,807.1 422.8,812.4 C437.7,818.7 455.6,826.1 471.8,832.9 C487.9,839.6 503.6,846.4 519.7,852.7 C535.9,859.0 553.0,865.1 568.7,870.9 C583.2,876.2 596.6,881.0 610.5,886.0" fill="none" stroke="#0080c8" stroke-width="4.3" stroke-linejoin="round" stroke-linecap="round"/>
<polygon points="131.20,801.56 142.95,822.56 119.45,822.56" fill="#0080c8"/>
<polygon points="179.90,580.06 191.65,601.06 168.15,601.06" fill="#0080c8"/>
<polygon points="228.40,638.96 240.15,659.96 216.65,659.96" fill="#0080c8"/>
<polygon points="276.70,714.86 288.45,735.86 264.95,735.86" fill="#0080c8"/>
<polygon points="324.90,751.56 336.65,772.56 313.15,772.56" fill="#0080c8"/>
<polygon points="374.20,777.66 385.95,798.66 362.45,798.66" fill="#0080c8"/>
<polygon points="422.80,798.96 434.55,819.96 411.05,819.96" fill="#0080c8"/>
<polygon points="471.80,819.46 483.55,840.46 460.05,840.46" fill="#0080c8"/>
<polygon points="519.70,839.26 531.45,860.26 507.95,860.26" fill="#0080c8"/>
<polygon points="568.70,857.46 580.45,878.46 556.95,878.46" fill="#0080c8"/>
<path d="M131.6,620.9 C131.8,615.8 131.8,611.4 132.3,605.7 C132.9,598.5 133.4,588.0 135.1,581.0 C136.4,575.5 138.7,566.7 140.5,566.7 C142.7,566.8 145.6,579.9 147.4,587.9 C149.6,597.9 149.9,610.7 151.5,622.1 C153.1,633.5 155.3,646.2 157.0,656.3 C158.4,664.3 159.7,671.6 161.0,677.8 C162.0,682.7 162.8,686.7 163.8,690.7 C164.7,694.3 165.3,697.0 166.5,701.0 C168.2,706.7 170.9,714.8 173.4,721.6 C175.9,728.5 178.6,735.4 181.6,742.1 C184.5,748.7 188.6,755.5 191.2,761.3 C193.3,765.9 194.7,770.0 196.3,773.8 C197.7,777.0 198.5,779.1 200.3,782.5 C203.0,787.6 207.3,795.0 211.3,801.3 C215.6,808.0 222.4,816.2 225.4,821.6 C227.2,824.9 227.3,827.5 228.9,829.9 C230.4,832.2 232.6,833.2 234.7,835.7 C237.9,839.5 242.1,846.1 245.7,851.3 C249.4,856.5 253.7,863.1 256.6,867.0 C258.4,869.4 259.2,870.5 261.0,872.6 C263.5,875.5 267.5,878.4 270.7,882.6 C275.0,888.3 278.8,899.0 283.2,904.5 C286.5,908.6 290.9,910.2 293.4,913.7 C295.7,917.0 296.5,921.2 298.0,925.0" fill="none" stroke="#404040" stroke-width="4.3" stroke-linejoin="round" stroke-linecap="round"/>
<polygon points="131.60,610.12 141.15,627.16 122.05,627.16" fill="#fff" stroke="#404040" stroke-width="2.6" stroke-linejoin="miter" stroke-miterlimit="10"/>
<polygon points="163.80,679.92 173.35,696.96 154.25,696.96" fill="#fff" stroke="#404040" stroke-width="2.6" stroke-linejoin="miter" stroke-miterlimit="10"/>
<polygon points="196.30,763.02 205.85,780.06 186.75,780.06" fill="#fff" stroke="#404040" stroke-width="2.6" stroke-linejoin="miter" stroke-miterlimit="10"/>
<polygon points="228.90,819.12 238.45,836.16 219.35,836.16" fill="#fff" stroke="#404040" stroke-width="2.6" stroke-linejoin="miter" stroke-miterlimit="10"/>
<polygon points="261.00,861.82 270.55,878.86 251.45,878.86" fill="#fff" stroke="#404040" stroke-width="2.6" stroke-linejoin="miter" stroke-miterlimit="10"/>
<polygon points="293.40,902.92 302.95,919.96 283.85,919.96" fill="#fff" stroke="#404040" stroke-width="2.6" stroke-linejoin="miter" stroke-miterlimit="10"/>
<path d="M132.0,683.0 C132.6,675.3 132.8,668.6 133.7,660.0 C134.9,648.9 137.7,635.0 139.2,622.1 C140.7,608.7 139.9,592.3 142.6,581.0 C144.6,572.6 148.1,560.0 151.2,559.8 C153.9,559.6 157.5,568.1 159.7,574.2 C162.9,582.9 163.8,599.9 165.2,608.4 C166.0,613.5 166.3,616.0 167.2,620.7 C168.4,627.0 170.5,634.3 172.0,642.6 C174.0,653.5 175.3,669.8 177.5,680.5 C179.1,688.4 181.0,694.2 183.0,701.0 C185.1,707.9 187.3,714.9 189.8,721.6 C192.3,728.1 195.6,735.3 198.0,740.7 C199.8,744.7 200.9,747.4 202.8,751.0 C204.9,755.1 207.6,759.4 210.3,764.0 C213.3,769.2 216.5,774.3 219.9,780.4 C224.1,787.9 229.6,799.8 233.2,806.0 C235.3,809.7 236.8,811.7 238.6,814.6 C240.4,817.5 242.0,819.8 244.1,823.2 C247.1,827.9 251.2,834.7 255.1,840.4 C259.1,846.2 264.1,853.2 267.6,857.6 C269.9,860.5 271.7,862.0 273.8,864.6 C276.3,867.6 278.9,871.0 281.7,874.8 C285.1,879.4 288.9,885.4 292.6,890.4 C296.2,895.3 300.4,900.8 303.6,904.5 C305.9,907.1 307.8,908.5 309.8,910.8 C312.0,913.3 313.9,916.3 316.0,919.0" fill="none" stroke="#00a050" stroke-width="4.3" stroke-linejoin="round" stroke-linecap="round"/>
<circle cx="132.0" cy="683.0" r="8.0" fill="#fff" stroke="#00a050" stroke-width="2.6"/>
<circle cx="167.2" cy="620.7" r="8.0" fill="#fff" stroke="#00a050" stroke-width="2.6"/>
<circle cx="202.8" cy="751.0" r="8.0" fill="#fff" stroke="#00a050" stroke-width="2.6"/>
<circle cx="238.6" cy="814.6" r="8.0" fill="#fff" stroke="#00a050" stroke-width="2.6"/>
<circle cx="273.8" cy="864.6" r="8.0" fill="#fff" stroke="#00a050" stroke-width="2.6"/>
<circle cx="309.8" cy="910.8" r="8.0" fill="#fff" stroke="#00a050" stroke-width="2.6"/>
</g>
<g clip-path="url(#clipd)">
<path d="M714.0,695.0 C714.7,685.8 715.2,676.6 716.0,667.4 C716.8,658.2 717.5,649.7 718.7,640.0 C720.1,629.1 721.7,613.8 724.2,605.3 C725.7,600.0 727.2,596.6 729.6,593.0 C731.8,589.6 735.2,583.8 737.8,584.1 C740.9,584.5 743.9,593.9 746.3,599.4 C748.9,605.2 750.6,612.2 752.5,618.2 C754.2,623.6 755.6,629.1 757.2,633.8 C758.5,637.7 759.7,640.5 761.1,644.3 C762.8,648.7 764.5,653.8 766.6,658.8 C768.9,664.3 771.4,670.7 774.4,676.0 C777.2,681.1 780.4,686.3 783.8,690.1 C786.7,693.3 789.7,695.2 793.2,697.9 C797.4,701.1 802.2,703.9 807.3,707.8 C813.7,712.6 820.8,719.4 828.2,724.9 C836.0,730.6 843.2,735.5 852.9,741.4 C865.9,749.4 884.0,759.2 899.5,767.8 C914.8,776.2 929.8,784.5 945.2,792.4 C960.6,800.3 976.3,807.9 991.9,815.2 C1007.4,822.5 1023.2,829.4 1038.7,836.3 C1054.0,843.1 1069.0,850.6 1084.5,856.4 C1099.9,862.2 1115.8,866.2 1131.3,871.1 C1146.7,876.0 1164.6,882.9 1177.1,885.8 C1185.5,887.8 1191.4,887.9 1198.5,889.0" fill="none" stroke="#dd0000" stroke-width="4.3" stroke-linejoin="round" stroke-linecap="round"/>
<rect x="705.5" y="686.5" width="17.0" height="17.0" fill="#dd0000"/>
<rect x="752.6" y="635.8" width="17.0" height="17.0" fill="#dd0000"/>
<rect x="798.8" y="699.3" width="17.0" height="17.0" fill="#dd0000"/>
<rect x="844.4" y="732.9" width="17.0" height="17.0" fill="#dd0000"/>
<rect x="891.0" y="759.3" width="17.0" height="17.0" fill="#dd0000"/>
<rect x="936.7" y="783.9" width="17.0" height="17.0" fill="#dd0000"/>
<rect x="983.4" y="806.7" width="17.0" height="17.0" fill="#dd0000"/>
<rect x="1030.2" y="827.8" width="17.0" height="17.0" fill="#dd0000"/>
<rect x="1076.0" y="847.9" width="17.0" height="17.0" fill="#dd0000"/>
<rect x="1122.8" y="862.6" width="17.0" height="17.0" fill="#dd0000"/>
<rect x="1168.6" y="877.3" width="17.0" height="17.0" fill="#dd0000"/>
<path d="M716.5,745.4 C716.8,739.9 716.9,735.5 717.3,729.0 C717.9,719.6 719.2,706.7 720.1,694.7 C721.1,681.6 721.5,665.9 722.8,653.5 C723.9,643.3 725.5,635.0 726.9,625.8 C728.3,616.6 729.2,606.5 731.0,598.4 C732.5,591.8 733.6,585.0 736.5,580.6 C738.8,577.1 742.3,573.2 745.4,573.1 C748.6,573.0 752.8,577.4 755.6,580.6 C758.6,584.0 760.3,588.9 762.4,593.1 C764.5,597.3 766.4,600.8 768.2,605.7 C770.5,611.9 772.1,620.3 774.4,627.6 C776.7,634.9 779.2,642.6 782.2,649.5 C785.0,656.1 788.1,662.4 791.6,668.3 C794.9,673.9 799.2,680.1 802.6,683.9 C804.9,686.4 806.3,687.2 809.0,689.5 C813.7,693.5 821.9,700.8 828.2,705.7 C833.9,710.2 840.1,714.3 845.0,718.0 C848.9,721.0 850.6,722.8 855.5,726.2 C865.2,732.9 885.8,745.0 901.2,753.9 C916.6,762.9 932.3,771.7 947.9,779.9 C963.2,787.9 978.4,795.0 993.8,802.5 C1009.3,810.0 1024.9,817.9 1040.5,824.9 C1055.8,831.8 1070.9,838.4 1086.3,844.2 C1101.5,850.0 1116.8,854.7 1132.2,859.8 C1147.7,864.9 1166.7,870.7 1178.9,874.9 C1186.9,877.6 1192.0,879.6 1198.5,882.0" fill="none" stroke="#0080c8" stroke-width="4.3" stroke-linejoin="round" stroke-linecap="round"/>
<polygon points="716.50,731.96 728.25,752.96 704.75,752.96" fill="#0080c8"/>
<polygon points="762.40,579.66 774.15,600.66 750.65,600.66" fill="#0080c8"/>
<polygon points="809.00,676.06 820.75,697.06 797.25,697.06" fill="#0080c8"/>
<polygon points="855.50,712.76 867.25,733.76 843.75,733.76" fill="#0080c8"/>
<polygon points="901.20,740.46 912.95,761.46 889.45,761.46" fill="#0080c8"/>
<polygon points="947.90,766.46 959.65,787.46 936.15,787.46" fill="#0080c8"/>
<polygon points="993.80,789.06 1005.55,810.06 982.05,810.06" fill="#0080c8"/>
<polygon points="1040.50,811.46 1052.25,832.46 1028.75,832.46" fill="#0080c8"/>
<polygon points="1086.30,830.76 1098.05,851.76 1074.55,851.76" fill="#0080c8"/>
<polygon points="1132.20,846.36 1143.95,867.36 1120.45,867.36" fill="#0080c8"/>
<polygon points="1178.90,861.46 1190.65,882.46 1167.15,882.46" fill="#0080c8"/>
<path d="M727.6,595.2 C728.7,589.4 729.5,583.5 731.0,577.9 C732.5,572.3 733.5,565.8 736.5,561.5 C739.2,557.6 744.5,552.8 747.6,552.6 C749.7,552.5 751.2,554.4 753.0,556.0 C755.4,558.2 758.0,561.4 760.3,565.0 C763.1,569.4 765.7,575.1 768.2,580.7 C771.0,587.0 773.3,594.6 776.0,601.0 C778.5,607.0 781.1,612.6 783.8,618.2 C786.4,623.6 788.6,628.7 791.6,633.8 C794.6,639.0 798.7,644.4 801.8,648.9 C804.3,652.6 805.9,655.6 808.8,658.8 C812.2,662.6 816.9,666.0 821.4,669.7 C826.3,673.8 831.7,678.3 837.0,682.2 C842.2,686.1 847.1,688.7 852.7,693.1 C859.8,698.7 867.7,707.2 875.7,713.5 C883.6,719.7 891.7,725.6 900.4,730.8 C909.3,736.1 920.0,740.5 928.5,744.9 C935.6,748.6 939.3,750.8 947.9,755.3 C964.6,763.9 997.6,780.6 1022.0,792.4 C1045.5,803.8 1068.5,814.1 1091.8,824.9 C1115.0,835.7 1141.9,848.2 1161.5,857.4 C1175.8,864.1 1186.2,869.0 1198.5,874.8" fill="none" stroke="#404040" stroke-width="4.3" stroke-linejoin="round" stroke-linecap="round"/>
<polygon points="727.60,584.42 737.15,601.46 718.05,601.46" fill="#fff" stroke="#404040" stroke-width="2.6" stroke-linejoin="miter" stroke-miterlimit="10"/>
<polygon points="801.80,638.12 811.35,655.16 792.25,655.16" fill="#fff" stroke="#404040" stroke-width="2.6" stroke-linejoin="miter" stroke-miterlimit="10"/>
<polygon points="875.70,702.72 885.25,719.76 866.15,719.76" fill="#fff" stroke="#404040" stroke-width="2.6" stroke-linejoin="miter" stroke-miterlimit="10"/>
<polygon points="947.90,744.52 957.45,761.56 938.35,761.56" fill="#fff" stroke="#404040" stroke-width="2.6" stroke-linejoin="miter" stroke-miterlimit="10"/>
<polygon points="1022.00,781.62 1031.55,798.66 1012.45,798.66" fill="#fff" stroke="#404040" stroke-width="2.6" stroke-linejoin="miter" stroke-miterlimit="10"/>
<polygon points="1091.80,814.12 1101.35,831.16 1082.25,831.16" fill="#fff" stroke="#404040" stroke-width="2.6" stroke-linejoin="miter" stroke-miterlimit="10"/>
<polygon points="1161.50,846.62 1171.05,863.66 1151.95,863.66" fill="#fff" stroke="#404040" stroke-width="2.6" stroke-linejoin="miter" stroke-miterlimit="10"/>
<path d="M727.6,642.9 C729.6,637.2 731.6,631.8 733.7,625.8 C736.0,619.3 738.3,612.6 740.6,605.3 C743.3,596.8 745.9,586.3 748.8,577.9 C751.4,570.5 752.7,562.6 757.0,557.4 C761.0,552.5 767.7,547.5 773.0,547.0 C777.7,546.5 783.2,549.6 786.9,552.5 C790.4,555.2 792.4,559.4 794.7,563.5 C797.3,568.0 799.1,573.8 801.5,578.6 C803.8,583.1 806.3,586.7 808.8,591.6 C811.8,597.6 815.0,605.3 818.2,611.9 C821.3,618.3 824.0,624.5 827.6,630.7 C831.3,637.1 835.5,643.4 840.1,649.5 C844.9,655.9 850.9,663.5 855.7,668.3 C859.1,671.7 862.0,673.6 865.2,676.3 C868.6,679.2 871.4,681.8 875.7,685.1 C882.1,690.1 891.8,697.0 900.4,702.7 C909.4,708.7 919.9,715.0 928.5,720.3 C935.8,724.8 941.8,728.6 948.7,732.6 C955.8,736.8 962.9,740.8 970.7,744.9 C979.5,749.5 989.9,754.4 998.9,759.0 C1007.2,763.2 1012.4,766.4 1022.6,771.3 C1040.4,779.9 1073.0,793.2 1097.3,804.2 C1120.8,814.8 1147.4,827.6 1166.1,836.3 C1178.9,842.3 1187.7,846.4 1198.5,851.5" fill="none" stroke="#00a050" stroke-width="4.3" stroke-linejoin="round" stroke-linecap="round"/>
<circle cx="727.6" cy="642.9" r="8.0" fill="#fff" stroke="#00a050" stroke-width="2.6"/>
<circle cx="801.5" cy="578.6" r="8.0" fill="#fff" stroke="#00a050" stroke-width="2.6"/>
<circle cx="875.7" cy="685.1" r="8.0" fill="#fff" stroke="#00a050" stroke-width="2.6"/>
<circle cx="948.7" cy="732.6" r="8.0" fill="#fff" stroke="#00a050" stroke-width="2.6"/>
<circle cx="1022.6" cy="771.3" r="8.0" fill="#fff" stroke="#00a050" stroke-width="2.6"/>
<circle cx="1097.3" cy="804.2" r="8.0" fill="#fff" stroke="#00a050" stroke-width="2.6"/>
<circle cx="1166.1" cy="836.3" r="8.0" fill="#fff" stroke="#00a050" stroke-width="2.6"/>
</g>
<rect x="125.0" y="1.5" width="485.5" height="412.7" fill="none" stroke="#000" stroke-width="1.85"/>
<rect x="125.0" y="504.2" width="485.5" height="412.9" fill="none" stroke="#000" stroke-width="1.85"/>
<rect x="713.2" y="1.5" width="485.3" height="412.7" fill="none" stroke="#000" stroke-width="1.85"/>
<rect x="713.2" y="504.2" width="485.3" height="413.0" fill="none" stroke="#000" stroke-width="1.85"/>
<ellipse cx="150.8" cy="414.2" rx="6.8" ry="8.3" fill="#f00"/>
<ellipse cx="209.9" cy="414.8" rx="6.7" ry="8.7" fill="#f00"/>
<ellipse cx="768.5" cy="415.2" rx="7.0" ry="8.8" fill="#f00"/>
<ellipse cx="906.0" cy="414.6" rx="6.9" ry="8.6" fill="#f00"/>
<text x="118.5" y="425.6" text-anchor="end" font-family="Liberation Serif, serif" font-weight="bold" font-size="38.6">0.0</text>
<text x="118.5" y="331.8" text-anchor="end" font-family="Liberation Serif, serif" font-weight="bold" font-size="38.6">0.5</text>
<text x="118.5" y="238.0" text-anchor="end" font-family="Liberation Serif, serif" font-weight="bold" font-size="38.6">1.0</text>
<text x="118.5" y="144.2" text-anchor="end" font-family="Liberation Serif, serif" font-weight="bold" font-size="38.6">1.5</text>
<text x="118.5" y="50.4" text-anchor="end" font-family="Liberation Serif, serif" font-weight="bold" font-size="38.6">2.0</text>
<text x="706.5" y="425.6" text-anchor="end" font-family="Liberation Serif, serif" font-weight="bold" font-size="38.6">0.0</text>
<text x="706.5" y="331.8" text-anchor="end" font-family="Liberation Serif, serif" font-weight="bold" font-size="38.6">0.5</text>
<text x="706.5" y="238.0" text-anchor="end" font-family="Liberation Serif, serif" font-weight="bold" font-size="38.6">1.0</text>
<text x="706.5" y="144.2" text-anchor="end" font-family="Liberation Serif, serif" font-weight="bold" font-size="38.6">1.5</text>
<text x="706.5" y="50.4" text-anchor="end" font-family="Liberation Serif, serif" font-weight="bold" font-size="38.6">2.0</text>
<text x="118.5" y="515.6" text-anchor="end" font-family="Liberation Serif, serif" font-weight="bold" font-size="38.6">0</text>
<text x="118.5" y="633.6" text-anchor="end" font-family="Liberation Serif, serif" font-weight="bold" font-size="38.6">-2</text>
<text x="118.5" y="751.5" text-anchor="end" font-family="Liberation Serif, serif" font-weight="bold" font-size="38.6">-4</text>
<text x="118.5" y="869.5" text-anchor="end" font-family="Liberation Serif, serif" font-weight="bold" font-size="38.6">-6</text>
<text x="706.5" y="515.6" text-anchor="end" font-family="Liberation Serif, serif" font-weight="bold" font-size="38.6">0</text>
<text x="706.5" y="607.4" text-anchor="end" font-family="Liberation Serif, serif" font-weight="bold" font-size="38.6">-2</text>
<text x="706.5" y="699.2" text-anchor="end" font-family="Liberation Serif, serif" font-weight="bold" font-size="38.6">-4</text>
<text x="706.5" y="790.9" text-anchor="end" font-family="Liberation Serif, serif" font-weight="bold" font-size="38.6">-6</text>
<text x="706.5" y="882.7" text-anchor="end" font-family="Liberation Serif, serif" font-weight="bold" font-size="38.6">-8</text>
<text x="125.0" y="451.2" text-anchor="middle" font-family="Liberation Serif, serif" font-weight="bold" font-size="38.6">0.00</text>
<text x="286.8" y="451.2" text-anchor="middle" font-family="Liberation Serif, serif" font-weight="bold" font-size="38.6">0.05</text>
<text x="448.7" y="451.2" text-anchor="middle" font-family="Liberation Serif, serif" font-weight="bold" font-size="38.6">0.10</text>
<text x="610.5" y="451.2" text-anchor="middle" font-family="Liberation Serif, serif" font-weight="bold" font-size="38.6">0.15</text>
<text x="713.2" y="451.2" text-anchor="middle" font-family="Liberation Serif, serif" font-weight="bold" font-size="38.6">0</text>
<text x="828.7" y="451.2" text-anchor="middle" font-family="Liberation Serif, serif" font-weight="bold" font-size="38.6">5</text>
<text x="944.3" y="451.2" text-anchor="middle" font-family="Liberation Serif, serif" font-weight="bold" font-size="38.6">10</text>
<text x="1059.8" y="451.2" text-anchor="middle" font-family="Liberation Serif, serif" font-weight="bold" font-size="38.6">15</text>
<text x="1175.4" y="451.2" text-anchor="middle" font-family="Liberation Serif, serif" font-weight="bold" font-size="38.6">20</text>
<text x="125.0" y="954.1" text-anchor="middle" font-family="Liberation Serif, serif" font-weight="bold" font-size="38.6">0.00</text>
<text x="286.8" y="954.1" text-anchor="middle" font-family="Liberation Serif, serif" font-weight="bold" font-size="38.6">0.05</text>
<text x="448.7" y="954.1" text-anchor="middle" font-family="Liberation Serif, serif" font-weight="bold" font-size="38.6">0.10</text>
<text x="610.5" y="954.1" text-anchor="middle" font-family="Liberation Serif, serif" font-weight="bold" font-size="38.6">0.15</text>
<text x="713.2" y="954.2" text-anchor="middle" font-family="Liberation Serif, serif" font-weight="bold" font-size="38.6">0</text>
<text x="828.7" y="954.2" text-anchor="middle" font-family="Liberation Serif, serif" font-weight="bold" font-size="38.6">5</text>
<text x="944.3" y="954.2" text-anchor="middle" font-family="Liberation Serif, serif" font-weight="bold" font-size="38.6">10</text>
<text x="1059.8" y="954.2" text-anchor="middle" font-family="Liberation Serif, serif" font-weight="bold" font-size="38.6">15</text>
<text x="1175.4" y="954.2" text-anchor="middle" font-family="Liberation Serif, serif" font-weight="bold" font-size="38.6">20</text>
<text x="600.0" y="43.0" text-anchor="end" font-family="Liberation Serif, serif" font-weight="bold" font-size="42">(<tspan font-style="italic">a</tspan>)</text>
<text x="1186.0" y="43.0" text-anchor="end" font-family="Liberation Serif, serif" font-weight="bold" font-size="42">(<tspan font-style="italic">c</tspan>)</text>
<text x="600.0" y="546.0" text-anchor="end" font-family="Liberation Serif, serif" font-weight="bold" font-size="42">(<tspan font-style="italic">b</tspan>)</text>
<text x="1188.3" y="546.0" text-anchor="end" font-family="Liberation Serif, serif" font-weight="bold" font-size="42">(<tspan font-style="italic">d</tspan>)</text>
<path d="M347.9,93.2 H427.3" stroke="#dd0000" stroke-width="4.8" stroke-linecap="round"/>
<rect x="378.2" y="84.0" width="18.4" height="18.4" fill="#dd0000"/>
<text x="437" y="105.2" font-family="Liberation Serif, serif" font-weight="bold" font-size="35"><tspan font-style="italic">q</tspan>=2, <tspan font-style="italic">&#349;</tspan>=0.5</text>
<path d="M347.9,137.5 H427.3" stroke="#0080c8" stroke-width="4.8" stroke-linecap="round"/>
<polygon points="387.40,123.87 399.15,145.17 375.65,145.17" fill="#0080c8"/>
<text x="437" y="149.5" font-family="Liberation Serif, serif" font-weight="bold" font-size="35"><tspan font-style="italic">q</tspan>=2, <tspan font-style="italic">&#349;</tspan>=1</text>
<path d="M347.9,182.5 H427.3" stroke="#404040" stroke-width="4.8" stroke-linecap="round"/>
<polygon points="387.40,171.72 396.95,188.76 377.85,188.76" fill="#fff" stroke="#404040" stroke-width="2.6" stroke-linejoin="miter" stroke-miterlimit="10"/>
<text x="437" y="194.5" font-family="Liberation Serif, serif" font-weight="bold" font-size="35"><tspan font-style="italic">q</tspan>=4, <tspan font-style="italic">&#349;</tspan>=1</text>
<path d="M347.9,226.4 H427.3" stroke="#00a050" stroke-width="4.8" stroke-linecap="round"/>
<circle cx="387.4" cy="226.4" r="8.2" fill="#fff" stroke="#00a050" stroke-width="2.6"/>
<text x="437" y="238.4" font-family="Liberation Serif, serif" font-weight="bold" font-size="35"><tspan font-style="italic">q</tspan>=4, <tspan font-style="italic">&#349;</tspan>=2</text>
<text transform="translate(44.08,272.96) rotate(-90) scale(0.8422,1)" font-family="&apos;DejaVu Serif&apos;, serif" font-style="normal" font-weight="normal" font-size="56.30" stroke="#000" stroke-width="0.70" stroke-linejoin="round">&#947;</text>
<text transform="translate(42.34,246.33) rotate(-90) scale(1.1619,1)" font-family="&apos;Liberation Serif&apos;, serif" font-style="italic" font-weight="normal" font-size="61.49" stroke="#000" stroke-width="1.00" stroke-linejoin="round">/</text>
<text transform="translate(42.32,227.64) rotate(-90) scale(0.9932,1)" font-family="&apos;Noto Serif CJK SC&apos;, serif" font-style="italic" font-weight="normal" font-size="42.23" stroke="#000" stroke-width="1.00" stroke-linejoin="round">&#969;</text>
<text transform="translate(56.53,193.50) rotate(-90) scale(0.8547,1)" font-family="&apos;Liberation Serif&apos;, serif" font-style="normal" font-weight="normal" font-size="23.40">*</text>
<text transform="translate(56.87,182.70) rotate(-90) scale(1.0016,1)" font-family="&apos;Liberation Serif&apos;, serif" font-style="normal" font-weight="bold" font-size="22.71">e</text>
<text transform="translate(47.70,797.53) rotate(-90) scale(0.9606,1)" font-family="&apos;Noto Serif CJK SC&apos;, serif" font-style="normal" font-weight="normal" font-size="53.02" stroke="#000" stroke-width="1.10" stroke-linejoin="round">&#969;</text>
<text transform="translate(70.55,753.99) rotate(-90) scale(0.9330,1)" font-family="&apos;Liberation Serif&apos;, serif" font-style="normal" font-weight="bold" font-size="36.63">r</text>
<text transform="translate(47.93,738.60) rotate(-90) scale(1.1573,1)" font-family="&apos;Liberation Serif&apos;, serif" font-style="italic" font-weight="normal" font-size="62.39" stroke="#000" stroke-width="1.00" stroke-linejoin="round">/</text>
<text transform="translate(47.82,719.16) rotate(-90) scale(0.9778,1)" font-family="&apos;Noto Serif CJK SC&apos;, serif" font-style="italic" font-weight="normal" font-size="42.05" stroke="#000" stroke-width="1.00" stroke-linejoin="round">&#969;</text>
<text transform="translate(62.34,685.82) rotate(-90) scale(0.8371,1)" font-family="&apos;Liberation Serif&apos;, serif" font-style="normal" font-weight="normal" font-size="24.49">*</text>
<text transform="translate(62.46,675.12) rotate(-90) scale(0.9995,1)" font-family="&apos;Liberation Serif&apos;, serif" font-style="normal" font-weight="bold" font-size="23.54">e</text>
<text transform="translate(347.16,1002.80) scale(1.3368,1)" font-family="&apos;Liberation Serif&apos;, serif" font-style="italic" font-weight="normal" font-size="50.14" stroke="#000" stroke-width="0.80" stroke-linejoin="round">&#946;</text>
<text transform="translate(376.20,1020.96) scale(1.0755,1)" font-family="&apos;Liberation Serif&apos;, serif" font-style="italic" font-weight="normal" font-size="29.37" stroke="#000" stroke-width="0.50" stroke-linejoin="round">e</text>
<text transform="translate(942.57,1009.76) scale(1.2005,1)" font-family="&apos;Liberation Serif&apos;, serif" font-style="italic" font-weight="normal" font-size="49.33" stroke="#000" stroke-width="0.80" stroke-linejoin="round">&#945;</text>
</svg>
</body></html>
